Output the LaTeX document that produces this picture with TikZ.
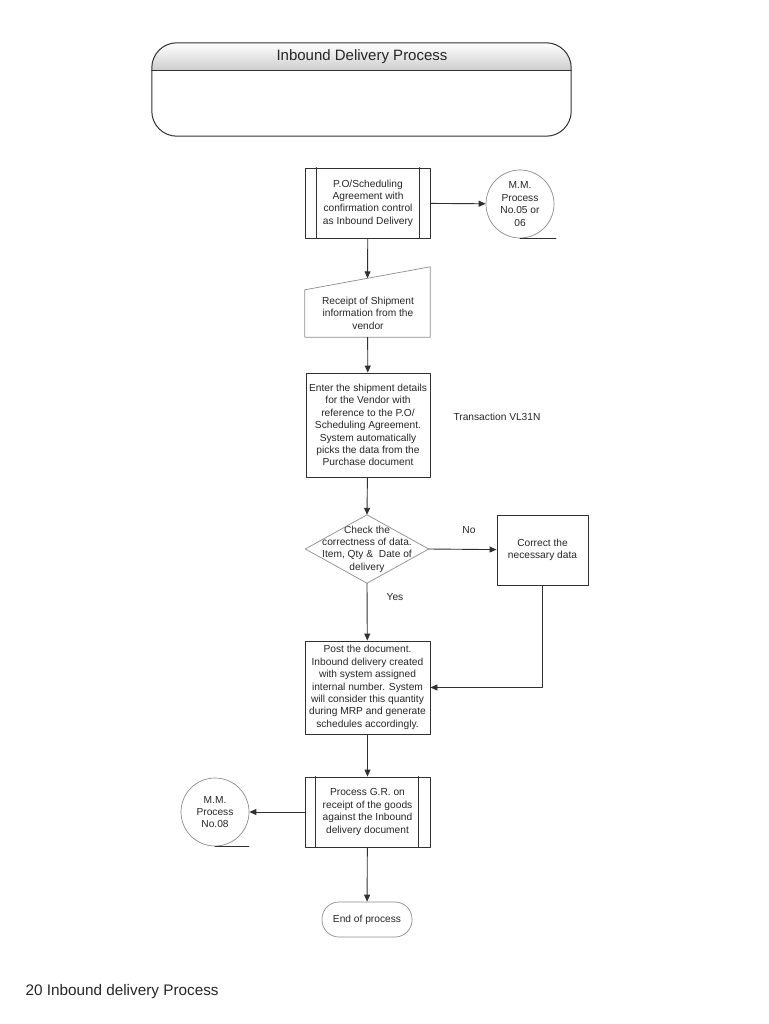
\documentclass[tikz,border=0pt]{standalone}
\usepackage{fontspec}
\setmainfont{Liberation Sans}
\usetikzlibrary{arrows.meta}
\definecolor{lightline}{HTML}{8C8C8C}
\definecolor{darkline}{HTML}{303030}
\begin{document}
\begin{tikzpicture}[x=1pt, y=-1pt, line join=round, line cap=round, >={Triangle[length=7pt,width=6pt]},
	font=\fontsize{10.2}{12.4}\selectfont, text=black!85,
	box/.style={draw=darkline, line width=0.9pt, align=center, inner sep=1pt},
	softbox/.style={align=center, inner sep=0pt},
	conn/.style={draw=lightline, line width=0.7pt, circle, minimum size=68pt, inner sep=0pt, align=center},
	flow/.style={->, draw=darkline, line width=0.9pt}]
				\useasboundingbox (0,0) rectangle (768,1024);
				% header
				\node (hdr) [minimum width=419pt, minimum height=93pt] at (361.5,89.5) {};
				\begin{scope}
					\clip[rounded corners=25pt] (hdr.north west) rectangle (hdr.south east);
					\shade[top color=white, bottom color=gray!40] (hdr.north west) rectangle ([yshift=-28pt]hdr.north east);
				\end{scope}
				\draw[darkline, line width=1pt, rounded corners=25pt] (hdr.north west) rectangle (hdr.south east);
				\draw[darkline, line width=1pt] ([yshift=-28pt]hdr.north west) -- ([yshift=-28pt]hdr.north east);
				\node (title) at (362,57) {\fontsize{15}{18}\selectfont Inbound Delivery Process};
				% P.O / scheduling agreement
				\node (po) [box, minimum width=125pt, minimum height=70pt] at (368,203) {P.O/Scheduling\\Agreement with\\confirmation control\\as Inbound Delivery};
				\draw[darkline, line width=0.9pt] ([xshift=11pt]po.north west) -- ([xshift=11pt]po.south west);
				\draw[darkline, line width=0.9pt] ([xshift=-12pt]po.north east) -- ([xshift=-12pt]po.south east);
				\node (mm1) [conn] at (520,204) {M.M.\\Process\\No.05 or\\06};
				\draw[darkline, line width=0.9pt] (mm1.south) -- ++(36,0);
				% receipt of shipment info
				\node (rcpt) [softbox, minimum width=125pt, minimum height=70pt] at (367.5,302) {};
				\draw[lightline, line width=0.7pt] (rcpt.south west) -- ([yshift=-23pt]rcpt.north west) -- (rcpt.north east) -- (rcpt.south east) -- cycle;
				\coordinate (rcpt-top) at ([yshift=-11.5pt]rcpt.north);
				\node (rcpt-txt) at (368,313) [align=center] {Receipt of Shipment\\information from the\\vendor};
				% enter shipment details
				\node (enter) [box, minimum width=124pt, minimum height=104pt] at (368,425) {Enter the shipment details\\for the Vendor with\\reference to the P.O/\\Scheduling Agreement.\\System automatically\\picks the data from the\\Purchase document};
				\node (tcode) at (497,417) {Transaction VL31N};
				% check
				\node (chk) [softbox, minimum width=123pt, minimum height=68pt] at (367,549) {Check the\\correctness of data.\\Item, Qty \&\ \ Date of\\delivery};
				\draw[lightline, line width=0.7pt] (chk.north) -- (chk.east) -- (chk.south) -- (chk.west) -- cycle;
				\node (no) at (469,530) {No};
				\node (yes) at (395,597) {Yes};
				\node (fix) [box, minimum width=91pt, minimum height=70pt] at (542.5,550) {Correct the\\necessary data};
				% post
				\node (post) [box, minimum width=125pt, minimum height=93pt] at (367.5,687.5) {Post the document.\\Inbound delivery created\\with system assigned\\internal number. System\\will consider this quantity\\during MRP and generate\\schedules accordingly.};
				% goods receipt
				\node (gr) [box, minimum width=125pt, minimum height=70pt] at (367.5,812) {Process G.R. on\\receipt of the goods\\against the Inbound\\delivery document};
				\draw[darkline, line width=0.9pt] ([xshift=11pt]gr.north west) -- ([xshift=11pt]gr.south west);
				\draw[darkline, line width=0.9pt] ([xshift=-12pt]gr.north east) -- ([xshift=-12pt]gr.south east);
				\node (mm2) [conn] at (215,812) {M.M.\\Process\\No.08};
				\draw[darkline, line width=0.9pt] (mm2.south) -- ++(34,0);
				\node (stop) [draw=lightline, line width=0.7pt, rounded corners=17pt, minimum width=90pt, minimum height=35pt] at (367,919.5) {End of process};
				% connectors
				\draw[flow] (po) -- (mm1);
				\draw[flow] (po) -- (rcpt-top);
				\draw[flow] (rcpt) -- (enter);
				\draw[flow] (enter) -- (chk.north);
				\draw[flow] (chk.east) -- (fix);
				\draw[flow] (chk.south) -- (post);
				\draw[flow] (fix.south) |- (post.east);
				\draw[flow] (post) -- (gr);
				\draw[flow] (gr) -- (mm2);
				\draw[flow] (gr) -- (stop);
				\node (caption) [anchor=west] at (22,992) {\fontsize{15.3}{18}\selectfont 20 Inbound delivery Process};
			\end{tikzpicture}
\end{document}
